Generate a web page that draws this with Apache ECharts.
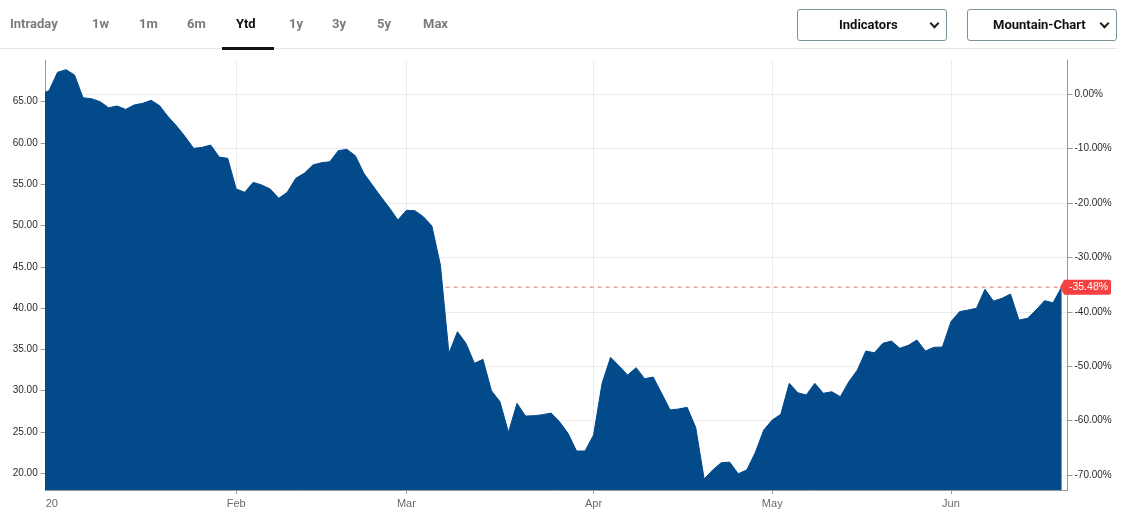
<!DOCTYPE html>
<html>
<head>
<meta charset="utf-8">
<script src="https://cdn.jsdelivr.net/npm/echarts@6/dist/echarts.min.js"></script>
<style>
  body { margin: 0; background: #fff; font-family: Roboto, sans-serif; }
  #wrap { position: relative; width: 1134px; height: 522px; overflow: hidden; }
  #chart { position: absolute; left: 0; top: 0; width: 1134px; height: 522px; }
  .bar { position: absolute; left: 0; top: 0; width: 1117px; height: 48px; border-bottom: 1px solid #e4e4e4; }
  .tab { position: absolute; top: 15px; font-size: 13px; font-weight: 700; color: #7b7b7b; line-height: 17px; }
  .tab.on { color: #111; }
  .uline { position: absolute; left: 222px; top: 47px; width: 52px; height: 3px; background: #111; }
  .btn { position: absolute; top: 9px; height: 30px; width: 148px; border: 1px solid #7d9099; border-radius: 3px;
         font-size: 13px; font-weight: 700; color: #111; line-height: 30px; }
  .btn span.t { position: absolute; top: 0; }
  .chev { position: absolute; top: 10px; width: 5px; height: 5px; border-right: 2px solid #222; border-bottom: 2px solid #222; transform: rotate(45deg); }
</style>
</head>
<body>
<div id="wrap">
  <div id="chart"></div>
  <div class="bar"></div>
  <div class="tab" style="left:10px">Intraday</div>
  <div class="tab" style="left:92px">1w</div>
  <div class="tab" style="left:139px">1m</div>
  <div class="tab" style="left:187px">6m</div>
  <div class="tab on" style="left:236px">Ytd</div>
  <div class="tab" style="left:289px">1y</div>
  <div class="tab" style="left:332px">3y</div>
  <div class="tab" style="left:377px">5y</div>
  <div class="tab" style="left:423px">Max</div>
  <div class="uline"></div>
  <div class="btn" style="left:797px"><span class="t" style="left:41px">Indicators</span><span class="chev" style="left:133px"></span></div>
  <div class="btn" style="left:967px"><span class="t" style="left:25px">Mountain-Chart</span><span class="chev" style="left:133px"></span></div>
</div>
<script>
// vorheriger Schlusskurs (Basis für die %-Achse)
const basePrice = 65.93
// Schlusskurse, ein Wert pro Handelstag
const prices = [
  66.33, 68.56, 68.88, 68.23, 65.48, 65.36, 65.0, 64.27, 64.48, 64.07,
  64.6, 64.8, 65.17, 64.52, 63.18, 62.05, 60.76, 59.35, 59.47, 59.75,
  58.30, 58.14, 54.43, 54.03, 55.24, 54.91, 54.43, 53.30, 54.03, 55.72,
  56.33, 57.33, 57.61, 57.73, 59.07, 59.23, 58.46, 56.33, 54.91, 53.50,
  52.16, 50.67, 51.85, 51.80, 51.07, 49.95, 45.22, 34.53, 37.15, 35.74,
  33.32, 33.80, 30.0, 28.67, 24.96, 28.47, 26.94, 26.97, 27.1, 27.30,
  26.25, 24.84, 22.7, 22.7, 24.64, 30.9, 34.05, 33.0, 31.9, 32.79,
  31.46, 31.66, 29.69, 27.67, 27.79, 27.99, 25.57, 19.31, 20.4, 21.28,
  21.35, 19.95, 20.4, 22.5, 25.24, 26.45, 27.14, 30.9, 29.76, 29.48,
  30.9, 29.69, 29.88, 29.28, 31.09, 32.5, 34.81, 34.6, 35.74, 36.02,
  35.14, 35.5, 36.14, 34.81, 35.26, 35.29, 38.36, 39.57, 39.77, 39.98,
  42.28, 40.86, 41.19, 41.71, 38.56, 38.77, 39.77, 40.90, 40.66, 42.54
]
const yearLabel = '20'
const monthIdx = [22, 42, 64, 85, 106]
const monthLabels = ['Feb', 'Mar', 'Apr', 'May', 'Jun']
const priceTicks = [20, 25, 30, 35, 40, 45, 50, 55, 60, 65]
const pctTicks = [0, -10, -20, -30, -40, -50, -60, -70]

const xMin = -0.39
const xMax = 119.7
const yMin = 17.98
const yMax = 70.05

const toPct = v => (v / basePrice - 1) * 100
const lastPrice = prices[prices.length - 1]
const lastPct = toPct(lastPrice)

const seriesData = [[-1, basePrice]].concat(prices.map((v, i) => [i, v]))

const axisColor = '#9a9a9a'
const gridColor = '#ebebeb'
const labelFont = 'Liberation Sans'

let option = {
  animation: false,
  grid: { left: 45.7, right: 66.5, top: 60, bottom: 32 },
  xAxis: {
    type: 'value',
    min: xMin,
    max: xMax,
    axisLine: { onZero: false, lineStyle: { color: axisColor } },
    axisTick: { customValues: monthIdx, length: 4, lineStyle: { color: axisColor } },
    splitLine: { show: true, lineStyle: { color: gridColor } },
    axisLabel: {
      customValues: [xMin].concat(monthIdx),
      alignMinLabel: 'left',
      color: '#6a6a6a',
      fontSize: 11,
      fontFamily: labelFont,
      formatter: v => {
        const k = monthIdx.indexOf(v)
        return k >= 0 ? monthLabels[k] : yearLabel
      }
    }
  },
  yAxis: [
    {
      type: 'value',
      position: 'left',
      min: yMin,
      max: yMax,
      axisLine: { show: true, onZero: false, lineStyle: { color: axisColor } },
      axisTick: { show: true, customValues: priceTicks, length: 5, lineStyle: { color: axisColor } },
      splitLine: { show: false },
      axisLabel: {
        customValues: priceTicks,
        color: '#2a2a2a',
        fontSize: 10,
        fontFamily: labelFont,
        margin: 8,
        formatter: v => v.toFixed(2)
      }
    },
    {
      type: 'value',
      position: 'right',
      min: toPct(yMin),
      max: toPct(yMax),
      axisLine: { show: true, onZero: false, lineStyle: { color: axisColor } },
      axisTick: { show: true, customValues: pctTicks, length: 5, lineStyle: { color: axisColor } },
      splitLine: { show: true, lineStyle: { color: gridColor } },
      axisLabel: {
        customValues: pctTicks,
        color: '#2a2a2a',
        fontSize: 10,
        fontFamily: labelFont,
        margin: 7,
        formatter: v => v.toFixed(2) + '%'
      }
    }
  ],
  series: [
    {
      // gestrichelte Linie auf Höhe des letzten Kurses (liegt unter der Fläche)
      type: 'line',
      yAxisIndex: 0,
      z: 1,
      silent: true,
      showSymbol: false,
      symbol: 'none',
      lineStyle: { color: '#f07070', type: [4, 4], width: 1 },
      data: [[xMin, lastPrice], [xMax, lastPrice]]
    },
    {
      type: 'line',
      yAxisIndex: 0,
      data: seriesData,
      showSymbol: false,
      z: 2,
      lineStyle: { color: '#034a8b', width: 1 },
      areaStyle: { color: '#034a8b', opacity: 1 }
    },
    {
      // Kursmarke rechts
      type: 'scatter',
      yAxisIndex: 1,
      clip: false,
      silent: true,
      z: 10,
      symbol: 'path://M0,7.5L4,0H48Q50,0 50,2V13Q50,15 48,15H4Z',
      symbolSize: [51, 15],
      symbolOffset: [18, 0],
      itemStyle: { color: '#f44040', opacity: 1 },
      label: {
        show: true,
        position: 'inside',
        offset: [3, 0],
        color: '#fff',
        fontSize: 10.5,
        fontFamily: labelFont,
        formatter: () => lastPct.toFixed(2) + '%'
      },
      data: [[xMax, lastPct]]
    }
  ]
}

var myChart = echarts.init(document.getElementById('chart'))
myChart.setOption(option)
</script>
</body>
</html>
